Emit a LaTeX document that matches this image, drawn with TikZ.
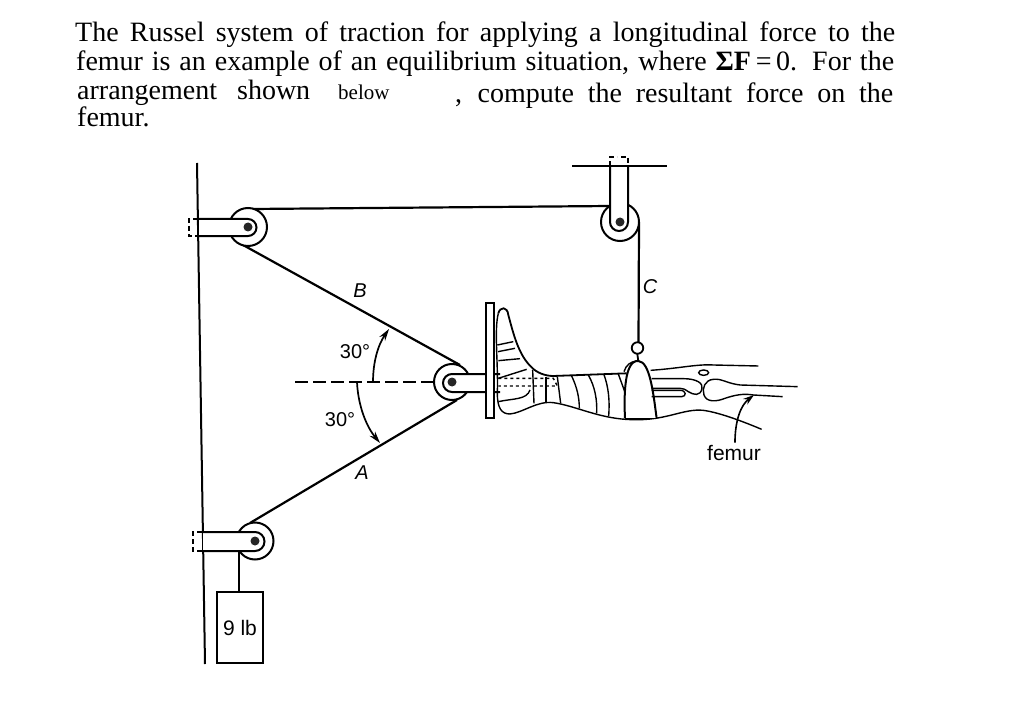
\documentclass[tikz,border=0pt]{standalone}
\usepackage{amsmath}
\usepackage{amssymb}
\usepackage{fontspec}
\setmainfont{Liberation Serif}
\newfontfamily\labelfont{Liberation Sans}
\usetikzlibrary{arrows.meta, positioning, calc}
\tikzset{
  textline/.style={anchor=base west, inner sep=0pt, font=\fontsize{28pt}{32pt}\selectfont},
  mark label/.style={inner sep=0pt, font=\labelfont\fontsize{20pt}{22pt}\selectfont},
  rope/.style={black, line width=2.2pt},
  pulley/.style={circle, draw=black, line width=2pt, fill=white, minimum size=#1, inner sep=0pt},
  axle/.style={circle, fill=black!85, minimum size=9pt, inner sep=0pt},
  bracket/.style={draw=black, line width=2pt, fill=white},
  stub/.style={black, line width=1.8pt, dash pattern=on 5pt off 3pt},
  limb/.style={black, line width=1.4pt},
  turn/.style={black, line width=1.7pt, -{Stealth[length=12pt,width=7pt]}}
}
\begin{document}
\begin{tikzpicture}[x=1pt, y=-1pt]
\useasboundingbox (0,0) rectangle (1024,703);

% Problem text
\node[textline] (lineA) at (75,41.5) {\makebox[820pt][s]{The Russel system of traction for applying a longitudinal force to the}};
\node[textline] (lineB) at (76,71) {\makebox[818pt][s]{femur is an example of an equilibrium situation, where \textbf{ΣF}\,=\,0. For the}};
\node[textline] (lineC) at (77,100) {\makebox[233pt][s]{arrangement shown}};
\node[anchor=base west, inner sep=0pt, font=\fontsize{21pt}{24pt}\selectfont] (below) at (338,100) {below};
\node[textline] (lineD) at (455,103) {\makebox[438pt][s]{, compute the resultant force on the}};
\node[textline] (lineE) at (77,127) {femur.};

% Wall
\draw[line width=2pt] (197,163) -- (205,664);

% Rope anchors
\coordinate (tlTop) at (252,209);
\coordinate (trLeft) at (610,206);
\coordinate (trRight) at (639,222);
\coordinate (tlLow) at (243,245);
\coordinate (midUp) at (460,365);
\coordinate (midLow) at (457,400);
\coordinate (blTop) at (250,523);
\coordinate (blDrop) at (239,551);
\coordinate (ringTop) at (638.5,342);

% Ropes
\draw[rope] (tlTop) -- (trLeft);
\draw[rope] (trRight) -- (ringTop);
\draw[rope] (tlLow) -- (midUp);
\draw[rope] (blTop) -- (midLow);

% Pulleys
\node[pulley=38pt] (pulleyTL) at (248,227) {};
\node[pulley=38pt] (pulleyTR) at (620,222) {};
\node[pulley=36pt] (pulleyM) at (452,382) {};
\node[pulley=37pt] (pulleyB) at (255,541) {};

% Brackets
\draw[bracket] (199,219) -- (248,219) arc (90:-90:8.5pt) -- (199,236);
\draw[bracket] (610,166) -- (610,222) arc (180:360:9pt) -- (628,166);
\draw[bracket] (500,374) -- (452,374) arc (90:270:9pt) -- (500,392);
\draw[bracket] (203,532) -- (255,532) arc (90:-90:9.5pt) -- (203,551);
\draw[stub] (198,219) -- (189,219) -- (189,236) -- (198,236);
\draw[stub] (202,532) -- (193,532) -- (193,551) -- (202,551);
\draw[stub] (610,166) -- (610,157) -- (617,157) (621,157) -- (628,157) -- (628,166);

% Ceiling
\draw[line width=2pt] (572,166) -- (667,166);

% Axles
\foreach \name/\px/\py in {TL/248/227, TR/620/222, M/452/382, B/255/541} {
  \node[axle] (axle\name) at (\px,\py) {};
}

% Weight
\node[draw=black, line width=2pt, minimum width=46pt, minimum height=71pt, inner sep=0pt, font=\labelfont\fontsize{21pt}{23pt}\selectfont] (weight) at (240,627.5) {9 lb};
\draw[rope] (blDrop) -- (weight.north -| blDrop);

% Force line and angles
\draw[line width=2pt, dash pattern=on 13pt off 5pt] (295,382) -- (435,382);
\draw[turn] (373,382) .. controls (373,362) and (378,345) .. (389,329);
\draw[turn] (357,382) .. controls (358,405) and (366,426) .. (380,443);
\node[mark label] (angleB) at (355,352) {30\textdegree};
\node[mark label] (angleA) at (340,420) {30\textdegree};
\node[mark label, font=\labelfont\itshape\fontsize{20pt}{22pt}\selectfont] (labelB) at (360,291) {B};
\node[mark label, font=\labelfont\itshape\fontsize{20pt}{22pt}\selectfont] (labelA) at (362,473) {A};
\node[mark label, font=\labelfont\itshape\fontsize{20pt}{22pt}\selectfont] (labelC) at (650,287) {C};

% Foot plate
\draw[bracket] (486,303) rectangle (494,418);

% Leg, in a finer grid
\begin{scope}[shift={(420,280)}, x=0.3333pt, y=-0.3333pt]
  % outline
  \draw[limb, line width=1.8pt] (235,100) .. controls (240,80) and (262,78) .. (265,105)
    .. controls (280,160) and (295,225) .. (335,262) .. controls (350,278) and (375,288) .. (400,288) -- (620,280);
  \draw[limb] (235,100) .. controls (222,150) and (235,250) .. (232,340) .. controls (232,385) and (245,402) .. (270,402)
    .. controls (310,398) and (350,362) .. (400,368) .. controls (470,378) and (540,418) .. (640,419)
    .. controls (740,422) and (790,385) .. (850,391) .. controls (900,398) and (970,425) .. (1025,448);
  % bands on the foot
  \draw[limb] (232,195) -- (280,185) (234,215) -- (285,205) (235,242) -- (300,236);
  \draw[limb] (235,365) .. controls (280,355) and (320,360) .. (330,330);
  \draw[limb] (235,295) -- (320,268);
  % bands on the cast
  \draw[limb] (338,270) -- (342,370);
  \draw[limb] (378,290) -- (378,365);
  \draw[limb] (412,290) -- (422,370);
  \draw[limb] (455,288) .. controls (470,320) and (478,350) .. (478,385);
  \draw[limb] (505,285) .. controls (525,320) and (532,360) .. (530,400);
  \draw[limb] (552,284) .. controls (565,320) and (570,360) .. (566,408);
  \draw[limb] (595,282) -- (618,345);
  % hidden edge of the bracket
  \draw[limb, dashed] (235,295) -- (400,295) -- (412,318) -- (235,318);
  % sling
  \draw[limb, line width=2pt, fill=white] (615,415) .. controls (612,350) and (612,240) .. (655,243)
    .. controls (690,245) and (700,340) .. (710,415);
  \draw[limb] (612,275) .. controls (618,255) and (632,245) .. (650,243);
  \draw[limb] (615,415) -- (710,415);
  \draw[limb, line width=1.8pt] (652,222) -- (655,243);
  % knee and thigh
  \draw[limb] (692,271) .. controls (780,265) and (830,252) .. (880,255) -- (1015,258);
  \draw[limb] (695,296) -- (790,296) .. controls (830,296) and (850,310) .. (846,325) .. controls (842,350) and (820,345) .. (805,335)
    .. controls (795,328) and (790,325) .. (780,325) -- (695,325);
  \draw[limb] (695,331) -- (780,331) .. controls (800,331) and (800,350) .. (785,350) -- (695,350);
  \draw[limb] (1133,320) -- (960,315) .. controls (920,310) and (905,295) .. (880,298) .. controls (855,300) and (845,325) .. (852,345)
    .. controls (860,368) and (890,365) .. (915,355) .. controls (945,345) and (970,340) .. (1000,345) -- (1088,350);
  \draw[limb] (851,278) ellipse (5pt and 2.7pt);
  % pointer
  \coordinate (pointerFoot) at (945,488);
  \coordinate (pointerTip) at (1002,345);
\end{scope}

% Ring and femur label
\node[circle, draw=black, line width=1.8pt, fill=white, minimum size=11.5pt, inner sep=0pt] (ring) at (637.5,348) {};
\draw[black, line width=1.6pt, -{Stealth[length=11pt,width=7pt]}] (pointerFoot) .. controls (735,420) and (741,405) .. (pointerTip);
\node[mark label, font=\labelfont\fontsize{21pt}{23pt}\selectfont] (labelFemur) at (734,453) {femur};
\end{tikzpicture}
\end{document}
